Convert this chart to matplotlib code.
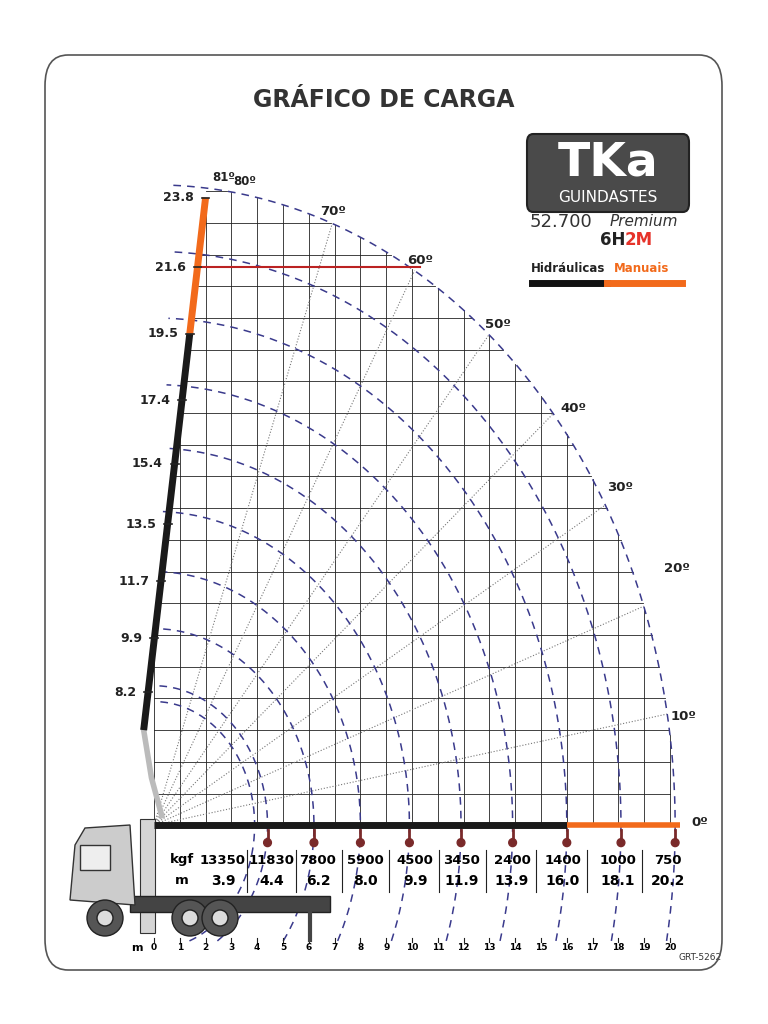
import numpy as np
import matplotlib
matplotlib.use("Agg")
import matplotlib.pyplot as plt
from matplotlib.patches import FancyBboxPatch, Polygon, Rectangle, Circle, Ellipse

# ---- data ----
heights = [23.8, 21.6, 19.5, 17.4, 15.4, 13.5, 11.7, 9.9, 8.2]
loads_kgf = [13350, 11830, 7800, 5900, 4500, 3450, 2400, 1400, 1000, 750]
radii_m = [3.9, 4.4, 6.2, 8.0, 9.9, 11.9, 13.9, 16.0, 18.1, 20.2]
angles = [0, 10, 20, 30, 40, 50, 60, 70, 80, 81]
xticks = list(range(0, 21))
pivot_h = 4.0
hydraulic_top = 19.5
manual_start_x = 16.0

# pixel <-> data mapping of the layout
def X(px): return (px - 154) / 25.8
def Y(py): return (952 - py) / 31.7

fig = plt.figure(figsize=(7.68, 10.24), dpi=100)
ax = fig.add_axes([0, 0, 1, 1])
ax.set_xlim(X(0), X(768)); ax.set_ylim(Y(1024), Y(0)); ax.axis("off")

fig.patches.append(FancyBboxPatch((45/768, 1-970/1024), 677/768, 915/1024,
    boxstyle="round,pad=0,rounding_size=0.03", transform=fig.transFigure,
    fc="none", ec="#555", lw=1.2))
fig.text(384/768, 1-100/1024, "GRÁFICO DE CARGA", ha="center", va="center",
         fontsize=17, fontweight="bold", color="#333")

bx0, by0 = -0.4, 7.0
def boomx(h): return bx0 + (h - by0) / (23.8 - by0) * (2.0 - bx0)
def boomh(x): return by0 + (x - bx0) * (23.8 - by0) / (2.0 - bx0)

R = max(radii_m)
# grid clipped to outer arc and boom
for gx in range(0, 21):
    top = min(pivot_h + np.sqrt(max(R**2 - gx**2, 0)), 24, boomh(gx))
    ax.plot([gx, gx], [pivot_h, top], color="#222", lw=0.6, zorder=1)
for gh in range(4, 25):
    d = gh - pivot_h
    right = np.sqrt(max(R**2 - d**2, 0))
    left = max(boomx(gh), 0)
    ax.plot([left, min(right, 20)], [gh, gh], color="#222", lw=0.6, zorder=1)

# radial dotted lines
for a in range(10, 80, 10):
    t = np.radians(a)
    ax.plot([0, R*np.cos(t)], [pivot_h, pivot_h + R*np.sin(t)], ls=":", color="#777", lw=0.8, zorder=1)

# dashed arcs
for r in radii_m:
    lo = -np.degrees(np.arcsin(min((pivot_h - 0.35) / r, 1)))
    t = np.radians(np.linspace(lo, 88, 300))
    ax.plot(r*np.cos(t), pivot_h + r*np.sin(t), ls=(0, (5, 4)), color="#3a3a8c", lw=1.1, zorder=2)

# angle labels
angle_pos = {0: (700, 822), 10: (684, 716), 20: (677, 568), 30: (620, 488), 40: (573, 408),
             50: (498, 325), 60: (420, 260), 70: (333, 212), 80: (245, 182), 81: (224, 178)}
for a in angles:
    px, py = angle_pos[a]
    ax.text(X(px), Y(py), f"{a}º", fontsize=8.5 if a >= 80 else 9.5, ha="center", va="center",
            color="#222", fontweight="bold")

# red line at 21.6
ax.plot([boomx(21.6), X(420)], [21.6, 21.6], color="#b22", lw=1.5, zorder=3)

# booms
ax.plot([bx0, boomx(hydraulic_top)], [by0, hydraulic_top], color="#1a1a1a", lw=5, zorder=4, solid_capstyle="butt")
ax.plot([boomx(hydraulic_top), boomx(23.8)], [hydraulic_top, 23.8], color="#f26a1b", lw=5, zorder=4, solid_capstyle="butt")
ax.plot([-0.4, -0.1, 0.3], [by0, 5.5, 4.3], color="#bbb", lw=4, zorder=3)
ax.plot([0.0, manual_start_x], [pivot_h, pivot_h], color="#1a1a1a", lw=5, zorder=4, solid_capstyle="butt")
ax.plot([manual_start_x, 20.4], [pivot_h, pivot_h], color="#f26a1b", lw=4, zorder=4, solid_capstyle="butt")
for r in radii_m[1:]:
    ax.plot([r, r], [pivot_h - 0.15, pivot_h - 0.5], color="#7a2a2a", lw=2, zorder=5)
    ax.add_patch(Ellipse((r, pivot_h - 0.55), 0.3, 0.25, color="#7a2a2a", zorder=5))
for h in heights:
    ax.plot([boomx(h) - 0.15, boomx(h) + 0.15], [h, h], color="#222", lw=1.2, zorder=5)
    ax.text(boomx(h) - 0.45, h, f"{h}", fontsize=9, ha="right", va="center", fontweight="bold", color="#222")

# crane column and truck (simplified)
ax.add_patch(Rectangle((-0.55, 0.6), 0.6, 3.6, fc="#d5d5d5", ec="#333", lw=0.8, zorder=3))
ax.add_patch(Rectangle((X(130), Y(912)), X(330) - X(130), 0.5, fc="#444", ec="#222", zorder=3))
ax.add_patch(Polygon([[X(70), Y(900)], [X(75), Y(845)], [X(85), Y(828)], [X(130), Y(825)], [X(135), Y(905)]],
                     fc="#ccc", ec="#333", zorder=3))
ax.add_patch(Rectangle((X(80), Y(870)), X(110) - X(80), Y(845) - Y(870), fc="#eee", ec="#333", zorder=4))
for px in [105, 190, 220]:
    ax.add_patch(Ellipse((X(px), Y(918)), 36/25.8, 36/31.7, fc="#555", ec="#222", zorder=4))
    ax.add_patch(Ellipse((X(px), Y(918)), 16/25.8, 16/31.7, fc="#ddd", ec="#222", zorder=5))
ax.plot([X(310), X(310)], [Y(905), Y(940)], color="#444", lw=3, zorder=3)

# load table
col_x = [223, 272, 318, 365, 415, 462, 512, 563, 618, 668]
ax.text(X(182), Y(860), "kgf", fontsize=9.5, ha="center", va="center", fontweight="bold", zorder=6)
ax.text(X(182), Y(880), "m", fontsize=9.5, ha="center", va="center", fontweight="bold", zorder=6)
for cx, kg, m in zip(col_x, loads_kgf, radii_m):
    ax.text(X(cx), Y(860), f"{kg}", fontsize=9.5, ha="center", va="center", fontweight="bold", zorder=6)
    ax.text(X(cx), Y(881), f"{m:.1f}", fontsize=10, ha="center", va="center", fontweight="bold", zorder=6)
for cx in col_x[:-1]:
    ax.plot([X(cx + 24)] * 2, [Y(850), Y(892)], color="#222", lw=0.8, zorder=6)

# bottom axis
for t in xticks:
    ax.plot([t, t], [Y(938), Y(942)], color="#222", lw=0.8)
    ax.text(t, Y(948), str(t), fontsize=6.5, ha="center", va="center", fontweight="bold")
ax.text(X(137), Y(948), "m", fontsize=8, ha="center", va="center", fontweight="bold")
ax.text(X(722), Y(957), "GRT-5262", fontsize=6.5, ha="right", va="center", color="#333")

# logo
fig.patches.append(FancyBboxPatch((527/768, 1-212/1024), 162/768, 78/1024,
    boxstyle="round,pad=0,rounding_size=0.008", transform=fig.transFigure, fc="#4a4a4a", ec="#222", lw=1.5))
fig.text(608/768, 1-163/1024, "TKa", fontsize=34, fontweight="bold", color="white", ha="center", va="center")
fig.text(608/768, 1-198/1024, "GUINDASTES", fontsize=11, color="white", ha="center", va="center")
fig.text(530/768, 1-222/1024, "52.700", fontsize=13, color="#333", ha="left", va="center")
fig.text(610/768, 1-222/1024, "Premium", fontsize=11, color="#333", ha="left", va="center", style="italic")
fig.text(625/768, 1-240/1024, "6H", fontsize=12, color="#222", ha="right", va="center", fontweight="bold")
fig.text(625/768, 1-240/1024, "2M", fontsize=12, color="#e6332a", ha="left", va="center", fontweight="bold")
fig.text(568/768, 1-268/1024, "Hidráulicas", fontsize=8.5, color="#222", ha="center", va="center", fontweight="bold")
fig.text(642/768, 1-268/1024, "Manuais", fontsize=8.5, color="#f26a1b", ha="center", va="center", fontweight="bold")
fig.add_artist(plt.Line2D([532/768, 607/768], [1-283/1024]*2, color="#111", lw=5))
fig.add_artist(plt.Line2D([607/768, 682/768], [1-283/1024]*2, color="#f26a1b", lw=5))

fig.savefig("out.png", dpi=100)
